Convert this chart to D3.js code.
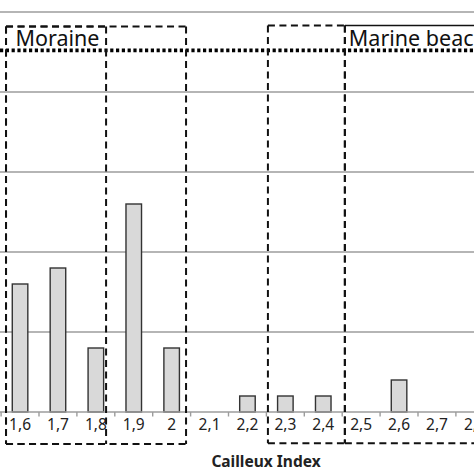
<!DOCTYPE html>
<html>
<head>
<meta charset="utf-8">
<script src="https://cdn.jsdelivr.net/npm/d3@7"></script>
<style>
  html, body { margin: 0; padding: 0; background: #fff; }
  svg { display: block; }
</style>
</head>
<body>
<svg id="chart" width="474" height="474"></svg>
<script>
// ---- data ----
const categories = ["1,6","1,7","1,8","1,9","2","2,1","2,2","2,3","2,4","2,5","2,6","2,7","2,8","2,9"];
const catValues  = [1.6, 1.7, 1.8, 1.9, 2.0, 2.1, 2.2, 2.3, 2.4, 2.5, 2.6, 2.7, 2.8, 2.9];
const counts     = [8, 9, 4, 13, 4, 0, 1, 1, 1, 0, 2, 0, 0, 0];
const gridTicks  = [0, 5, 10, 15, 20, 25];
const thresholdValue = 22.6;
// zones: name, from / to Cailleux value, top / bottom value
const zoneNames  = ["Moraine", "", "", "Marine beach"];
const zoneFrom   = [1.563, 1.563, 2.254, 2.457];
const zoneTo     = [1.827, 2.038, 2.457, 3.2];
const zoneTop    = [24.1, 24.1, 24.15, 24.15];
const zoneBottom = [-2.0, -2.0, -1.95, -1.95];
const axisTitle  = "Cailleux Index";

// ---- layout ----
const W = 474, H = 474;
const svg = d3.select("#chart");
const step = 37.9, x0 = 1.1;

const x = d3.scaleBand()
  .domain(categories)
  .range([x0, x0 + step * categories.length])
  .paddingInner(0.59)
  .paddingOuter(0.295);

// continuous scale on Cailleux value, aligned with band centres
const xv = d3.scaleLinear()
  .domain([catValues[0], catValues[1]])
  .range([x(categories[0]) + x.bandwidth()/2, x(categories[1]) + x.bandwidth()/2]);

const y = d3.scaleLinear().domain([0, 25]).range([412, 12]);

// gridlines
svg.append("g").selectAll("line")
  .data(gridTicks.filter(d => d > 0))
  .join("line")
  .attr("x1", 0).attr("x2", W)
  .attr("y1", d => y(d)).attr("y2", d => y(d))
  .attr("stroke", "#9c9c9c").attr("stroke-width", 1.4);

// bars
svg.append("g").selectAll("rect")
  .data(categories.map((c, i) => ({c, v: counts[i]})).filter(d => d.v > 0))
  .join("rect")
  .attr("x", d => x(d.c))
  .attr("width", x.bandwidth())
  .attr("y", d => y(d.v))
  .attr("height", d => y(0) - y(d.v))
  .attr("fill", "#d9d9d9")
  .attr("stroke", "#333")
  .attr("stroke-width", 1.4);

// x axis baseline
svg.append("line")
  .attr("x1", 0).attr("x2", W)
  .attr("y1", y(0)).attr("y2", y(0))
  .attr("stroke", "#9c9c9c").attr("stroke-width", 1.4);

// tick marks between categories
svg.append("g").selectAll("line")
  .data(categories)
  .join("line")
  .attr("x1", d => x(d) + x.bandwidth()/2 - x.step()/2)
  .attr("x2", d => x(d) + x.bandwidth()/2 - x.step()/2)
  .attr("y1", y(0)).attr("y2", y(0) + 4.5)
  .attr("stroke", "#9c9c9c").attr("stroke-width", 1.4);

// tick labels via axis
const ax = svg.append("g")
  .attr("transform", `translate(0,${y(0)})`)
  .call(d3.axisBottom(x).tickSize(0).tickPadding(18));
ax.select(".domain").remove();
ax.selectAll("text")
  .attr("font-family", "'Noto Sans', sans-serif")
  .attr("font-size", 15.5)
  .attr("fill", "#222")
  .attr("dy", "0");

// axis title
svg.append("text")
  .attr("x", 266).attr("y", 467)
  .attr("text-anchor", "middle")
  .attr("font-family", "'Noto Sans', sans-serif")
  .attr("font-weight", "bold")
  .attr("font-size", 15.5)
  .attr("fill", "#222")
  .text(axisTitle);

// dotted threshold line
svg.append("line")
  .attr("x1", 0).attr("x2", W)
  .attr("y1", y(thresholdValue)).attr("y2", y(thresholdValue))
  .attr("stroke", "#000").attr("stroke-width", 3.6)
  .attr("stroke-dasharray", "3.2,2.6");

// zones
zoneNames.forEach((name, i) => {
  const g = svg.append("g");
  const xl = xv(zoneFrom[i]), xr = xv(zoneTo[i]);
  const yt = y(zoneTop[i]), yb = y(zoneBottom[i]);
  const dash = "7,4.5";
  const style = s => s.attr("fill", "none").attr("stroke", "#111").attr("stroke-width", 2);
  const top = g.append("line").attr("x1", xl).attr("x2", xr).attr("y1", yt).attr("y2", yt).call(style);
  if (name === "Marine beach") top.attr("stroke-width", 1.5); else top.attr("stroke-dasharray", dash);
  g.append("line").attr("x1", xl).attr("x2", xr).attr("y1", yb).attr("y2", yb).call(style).attr("stroke-dasharray", dash);
  g.append("line").attr("x1", xl).attr("x2", xl).attr("y1", yt).attr("y2", yb).call(style).attr("stroke-dasharray", dash);
  g.append("line").attr("x1", xr).attr("x2", xr).attr("y1", yt).attr("y2", yb).call(style).attr("stroke-dasharray", dash);
  if (name) {
    g.append("text")
      .attr("x", xl + (i === 0 ? 9.5 : 4))
      .attr("y", yt + 20)
      .attr("font-family", "'Noto Sans', sans-serif")
      .attr("font-size", 21.5)
      .attr("fill", "#111")
      .text(name);
  }
});
</script>
</body>
</html>
